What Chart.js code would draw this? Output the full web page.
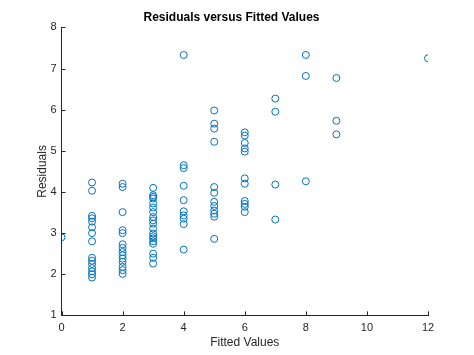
<!DOCTYPE html>
<html>
<head>
<meta charset="utf-8">
<script src="https://cdn.jsdelivr.net/npm/chart.js@4/dist/chart.umd.min.js"></script>
<style>
  html, body { margin: 0; padding: 0; background: #ffffff; }
  #wrap { width: 474px; height: 355px; }
</style>
</head>
<body>
<div id="wrap"><canvas id="c" width="474" height="355"></canvas></div>
<script>
// ---- Data ----
const fittedValues = [
  0,
  1,1,1,1,1,1,1,1,1,1,1,1,1,1,1,
  2,2,2,2,2,2,2,2,2,2,2,2,2,2,
  3,3,3,3,3,3,3,3,3,3,3,3,3,3,3,3,3,3,3,
  4,4,4,4,4,4,4,4,4,4,
  5,5,5,5,5,5,5,5,5,5,5,5,
  6,6,6,6,6,6,6,6,6,6,6,
  7,7,7,7,
  8,8,8,
  9,9,9,
  12
];
const residuals = [
  2.9,
  4.23,4.03,3.42,3.36,3.28,3.14,3.0,2.8,2.4,2.33,2.25,2.15,2.07,2.0,1.92,
  4.2,4.12,3.51,3.07,3.0,2.73,2.64,2.54,2.46,2.38,2.3,2.18,2.1,2.01,
  4.1,3.92,3.88,3.84,3.72,3.62,3.51,3.39,3.31,3.23,3.11,2.99,2.92,2.87,2.8,2.74,2.5,2.4,2.26,
  7.33,4.65,4.58,4.15,3.8,3.53,3.43,3.35,3.22,2.6,
  5.98,5.66,5.54,5.22,4.12,3.98,3.76,3.66,3.55,3.47,3.4,2.86,
  5.45,5.37,5.19,5.06,4.98,4.33,4.2,3.78,3.71,3.64,3.51,
  6.27,5.95,4.18,3.33,
  7.33,6.82,4.26,
  6.77,5.73,5.4,
  7.25
];
const xTicks = [0, 2, 4, 6, 8, 10, 12];
const yTicks = [1, 2, 3, 4, 5, 6, 7, 8];
const chartTitle = 'Residuals versus Fitted Values';
const xLabel = 'Fitted Values';
const yLabel = 'Residuals';

const points = fittedValues.map((x, i) => ({ x: x, y: residuals[i] }));
const axisColor = '#262626';
const fontFamily = '"Liberation Sans", Arial, Helvetica, sans-serif';

// inward tick marks like MATLAB
const inwardTicks = {
  id: 'inwardTicks',
  afterDatasetsDraw(chart) {
    const ctx = chart.ctx;
    const xs = chart.scales.x, ys = chart.scales.y;
    const len = 4;
    ctx.save();
    ctx.strokeStyle = axisColor;
    ctx.lineWidth = 1;
    ctx.beginPath();
    xTicks.forEach(v => {
      const px = Math.round(xs.getPixelForValue(v)) + 0.5;
      ctx.moveTo(px, ys.bottom);
      ctx.lineTo(px, ys.bottom - len);
    });
    yTicks.forEach(v => {
      const py = Math.round(ys.getPixelForValue(v)) + 0.5;
      ctx.moveTo(xs.left, py);
      ctx.lineTo(xs.left + len, py);
    });
    ctx.stroke();
    ctx.restore();
  }
};

new Chart(document.getElementById('c'), {
  type: 'scatter',
  data: {
    datasets: [{
      data: points,
      pointStyle: 'circle',
      pointRadius: 3.5,
      pointHoverRadius: 3.5,
      pointBorderWidth: 1,
      borderColor: '#0072BD',
      backgroundColor: 'rgba(0,0,0,0)',
      pointBackgroundColor: 'rgba(0,0,0,0)',
      pointBorderColor: '#0072BD',
      showLine: false
    }]
  },
  options: {
    responsive: false,
    animation: false,
    layout: { padding: { left: 35, right: 46, top: 0, bottom: 5 } },
    plugins: {
      legend: { display: false },
      tooltip: { enabled: false },
      title: {
        display: true,
        text: chartTitle,
        color: '#000000',
        font: { family: fontFamily, size: 12, weight: 'bold' },
        padding: { top: 10, bottom: 3 }
      }
    },
    scales: {
      x: {
        type: 'linear',
        min: 0, max: 12,
        grid: { display: false, drawTicks: false },
        border: { display: true, color: axisColor, width: 1 },
        ticks: {
          stepSize: 2,
          color: axisColor,
          padding: 6,
          maxRotation: 0,
          font: { family: fontFamily, size: 11 }
        },
        title: {
          display: true, text: xLabel, color: axisColor,
          font: { family: fontFamily, size: 12 },
          padding: { top: -5, bottom: 0 }
        }
      },
      y: {
        type: 'linear',
        min: 1, max: 8,
        grid: { display: false, drawTicks: false },
        border: { display: true, color: axisColor, width: 1 },
        ticks: {
          stepSize: 1,
          color: axisColor,
          padding: 5,
          font: { family: fontFamily, size: 11 }
        },
        title: {
          display: true, text: yLabel, color: axisColor,
          font: { family: fontFamily, size: 12 },
          padding: { top: 0, bottom: -4 }
        }
      }
    }
  },
  plugins: [inwardTicks]
});
</script>
</body>
</html>
